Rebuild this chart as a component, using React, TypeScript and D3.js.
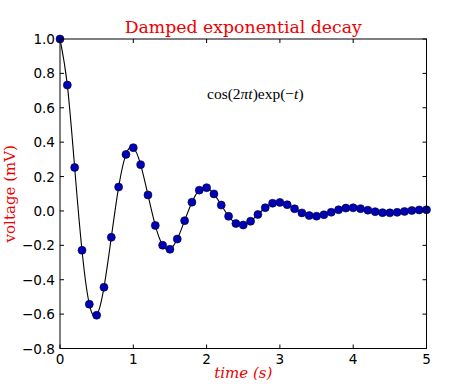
import React from "react";
import * as d3 from "d3";

const times = [0, 0.1, 0.2, 0.3, 0.4, 0.5, 0.6, 0.7, 0.8, 0.9, 1.0, 1.1, 1.2, 1.3, 1.4, 1.5, 1.6, 1.7, 1.8, 1.9, 2.0, 2.1, 2.2, 2.3, 2.4, 2.5, 2.6, 2.7, 2.8, 2.9, 3.0, 3.1, 3.2, 3.3, 3.4, 3.5, 3.6, 3.7, 3.8, 3.9, 4.0, 4.1, 4.2, 4.3, 4.4, 4.5, 4.6, 4.7, 4.8, 4.9, 5.0];
const voltages = [1.0, 0.732, 0.253, -0.2289, -0.5423, -0.6065, -0.444, -0.1535, 0.1389, 0.3289, 0.3679, 0.2693, 0.0931, -0.0842, -0.1995, -0.2231, -0.1633, -0.0565, 0.0511, 0.121, 0.1353, 0.0991, 0.0342, -0.031, -0.0734, -0.0821, -0.0601, -0.0208, 0.0188, 0.0445, 0.0498, 0.0364, 0.0126, -0.0114, -0.027, -0.0302, -0.0221, -0.0076, 0.0069, 0.0164, 0.0183, 0.0134, 0.0046, -0.0042, -0.0099, -0.0111, -0.0081, -0.0028, 0.0025, 0.006, 0.0067];
const xTicks = [0, 1, 2, 3, 4, 5];
const yTicks = [-0.8, -0.6, -0.4, -0.2, 0.0, 0.2, 0.4, 0.6, 0.8, 1.0];

const W = 474, H = 387;
const L = 60, R = 426.5, T = 39, B = 348.5;

export default function App() {
  const x = d3.scaleLinear().domain([0, 5]).range([L, R]);
  const y = d3.scaleLinear().domain([-0.8, 1.0]).range([B, T]);
  const pts = times.map((t, i) => [t, voltages[i]] as [number, number]);
  const line = d3.line<[number, number]>().x(d => x(d[0])).y(d => y(d[1])).curve(d3.curveNatural);
  const fmtY = (v: number) => {
    const s = Math.abs(v).toFixed(1);
    return (v < -1e-9 ? "\u2212" : "") + s;
  };
  const tickFont = "'DejaVu Sans', sans-serif";
  const serif = "'DejaVu Serif', serif";
  return (
    <svg width={W} height={H} style={{ position: "absolute", left: 0, top: 0, background: "#fff" }}>
      <rect x={0} y={0} width={W} height={H} fill="#fff" />
      <defs>
        <clipPath id="clip">
          <rect x={L} y={T - 5} width={R - L + 5} height={B - T + 10} />
        </clipPath>
      </defs>
      <path d={line(pts) || ""} fill="none" stroke="#000" strokeWidth={1.1} clipPath="url(#clip)" />
      {pts.map((p, i) => (
        <circle key={i} cx={x(p[0])} cy={y(p[1])} r={4} fill="#0000b4" stroke="#000033" strokeWidth={0.6} />
      ))}
      <rect x={L} y={T} width={R - L} height={B - T} fill="none" stroke="#000" strokeWidth={1} />
      {xTicks.map(t => (
        <g key={"x" + t}>
          <line x1={x(t)} x2={x(t)} y1={B} y2={B - 4} stroke="#000" />
          <line x1={x(t)} x2={x(t)} y1={T} y2={T + 4} stroke="#000" />
          <text x={x(t)} y={B + 15} textAnchor="middle" fontFamily={tickFont} fontSize={13.6} fill="#000">{t}</text>
        </g>
      ))}
      {yTicks.map(v => (
        <g key={"y" + v}>
          <line x1={L} x2={L + 4} y1={y(v)} y2={y(v)} stroke="#000" />
          <line x1={R} x2={R - 4} y1={y(v)} y2={y(v)} stroke="#000" />
          <text x={L - 5} y={y(v) + 5} textAnchor="end" fontFamily={tickFont} fontSize={13.6} fill="#000">{fmtY(v)}</text>
        </g>
      ))}
      <text x={(L + R) / 2} y={33} textAnchor="middle" fontFamily={serif} fontSize={17.3} fill="#ee0000">Damped exponential decay</text>
      <text x={(L + R) / 2} y={378} textAnchor="middle" fontFamily={serif} fontStyle="italic" fontSize={15} fill="#ee0000">time (s)</text>
      <text transform={`translate(15,${(T + B) / 2}) rotate(-90)`} textAnchor="middle" fontFamily={serif} fontSize={15} fill="#ee0000">voltage (mV)</text>
      <text x={207} y={99} fontFamily="'Liberation Serif', serif" fontSize={15.5} fill="#000">
        cos(2<tspan fontStyle="italic">πt</tspan>)exp(−<tspan fontStyle="italic">t</tspan>)
      </text>
    </svg>
  );
}
